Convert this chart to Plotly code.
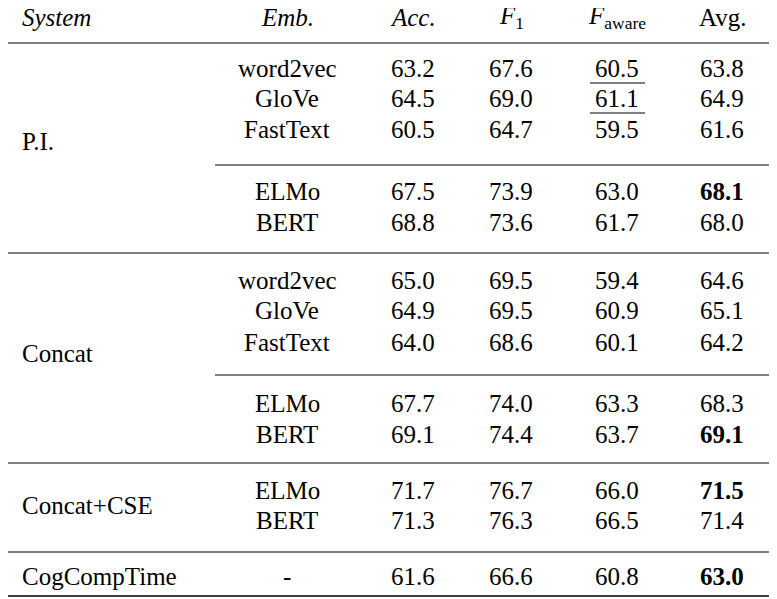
import plotly.graph_objects as go

headers = ["<i>System</i>", "<i>Emb.</i>", "<i>Acc.</i>", "<i>F</i><sub>1</sub>", "<i>F</i><sub>aware</sub>", "Avg."]
systems = ["P.I.", "Concat", "Concat+CSE", "CogCompTime"]
system_rows = [[0, 1, 2, 3, 4], [5, 6, 7, 8, 9], [10, 11], [12]]
embs = ["word2vec", "GloVe", "FastText", "ELMo", "BERT",
        "word2vec", "GloVe", "FastText", "ELMo", "BERT",
        "ELMo", "BERT", "-"]
acc = [63.2, 64.5, 60.5, 67.5, 68.8, 65.0, 64.9, 64.0, 67.7, 69.1, 71.7, 71.3, 61.6]
f1 = [67.6, 69.0, 64.7, 73.9, 73.6, 69.5, 69.5, 68.6, 74.0, 74.4, 76.7, 76.3, 66.6]
faware = [60.5, 61.1, 59.5, 63.0, 61.7, 59.4, 60.9, 60.1, 63.3, 63.7, 66.0, 66.5, 60.8]
avg = [63.8, 64.9, 61.6, 68.1, 68.0, 64.6, 65.1, 64.2, 68.3, 69.1, 71.5, 71.4, 63.0]
bold_avg = [3, 9, 10, 12]
underline_faware = [0, 1]

# layout positions (pixels)
row_y = [68, 98, 129, 191, 222, 280, 310, 342, 403, 434, 490, 520, 576]
col_x = [None, 287, 413, 511, 617, 722]
header_y = 17
sys_x = 20
full_lines = [(3, 1.6), (43, 1), (253, 1), (463, 1), (552, 1), (596, 1.6)]
partial_lines = [165, 375]

font = dict(family="Liberation Serif, Times New Roman, serif", size=25, color="black")
fig = go.Figure()
ann = []
for i, h in enumerate(headers):
    if i == 0:
        ann.append(dict(x=sys_x, y=header_y, text=h, xanchor="left"))
    else:
        ann.append(dict(x=col_x[i], y=header_y, text=h, xanchor="center"))
for s, rows in zip(systems, system_rows):
    yc = sum(row_y[r] for r in rows) / len(rows)
    ann.append(dict(x=sys_x, y=yc, text=s, xanchor="left"))
for r in range(len(embs)):
    ann.append(dict(x=col_x[1], y=row_y[r], text=embs[r], xanchor="center"))
    ann.append(dict(x=col_x[2], y=row_y[r], text=f"{acc[r]:.1f}", xanchor="center"))
    ann.append(dict(x=col_x[3], y=row_y[r], text=f"{f1[r]:.1f}", xanchor="center"))
    ann.append(dict(x=col_x[4], y=row_y[r], text=f"{faware[r]:.1f}", xanchor="center"))
    t = f"{avg[r]:.1f}"
    if r in bold_avg:
        t = f"<b>{t}</b>"
    ann.append(dict(x=col_x[5], y=row_y[r], text=t, xanchor="center"))
for a in ann:
    a.update(xref="x", yref="y", showarrow=False, yanchor="middle", font=font)

shapes = []
for y, w in full_lines:
    shapes.append(dict(type="line", x0=5, x1=771, y0=y, y1=y, xref="x", yref="y",
                       line=dict(color="black", width=w)))
for y in partial_lines:
    shapes.append(dict(type="line", x0=215, x1=771, y0=y, y1=y, xref="x", yref="y",
                       line=dict(color="black", width=1)))
for r in underline_faware:
    shapes.append(dict(type="line", x0=590, x1=645, y0=row_y[r] + 15, y1=row_y[r] + 15,
                       xref="x", yref="y", line=dict(color="black", width=1)))

fig.update_layout(width=777, height=599, margin=dict(l=0, r=0, t=0, b=0),
                  paper_bgcolor="white", plot_bgcolor="white",
                  xaxis=dict(range=[8, 785], visible=False, fixedrange=True),
                  yaxis=dict(range=[607, 8], visible=False, fixedrange=True),
                  annotations=ann, shapes=shapes, showlegend=False)
fig.write_html("out.html")
